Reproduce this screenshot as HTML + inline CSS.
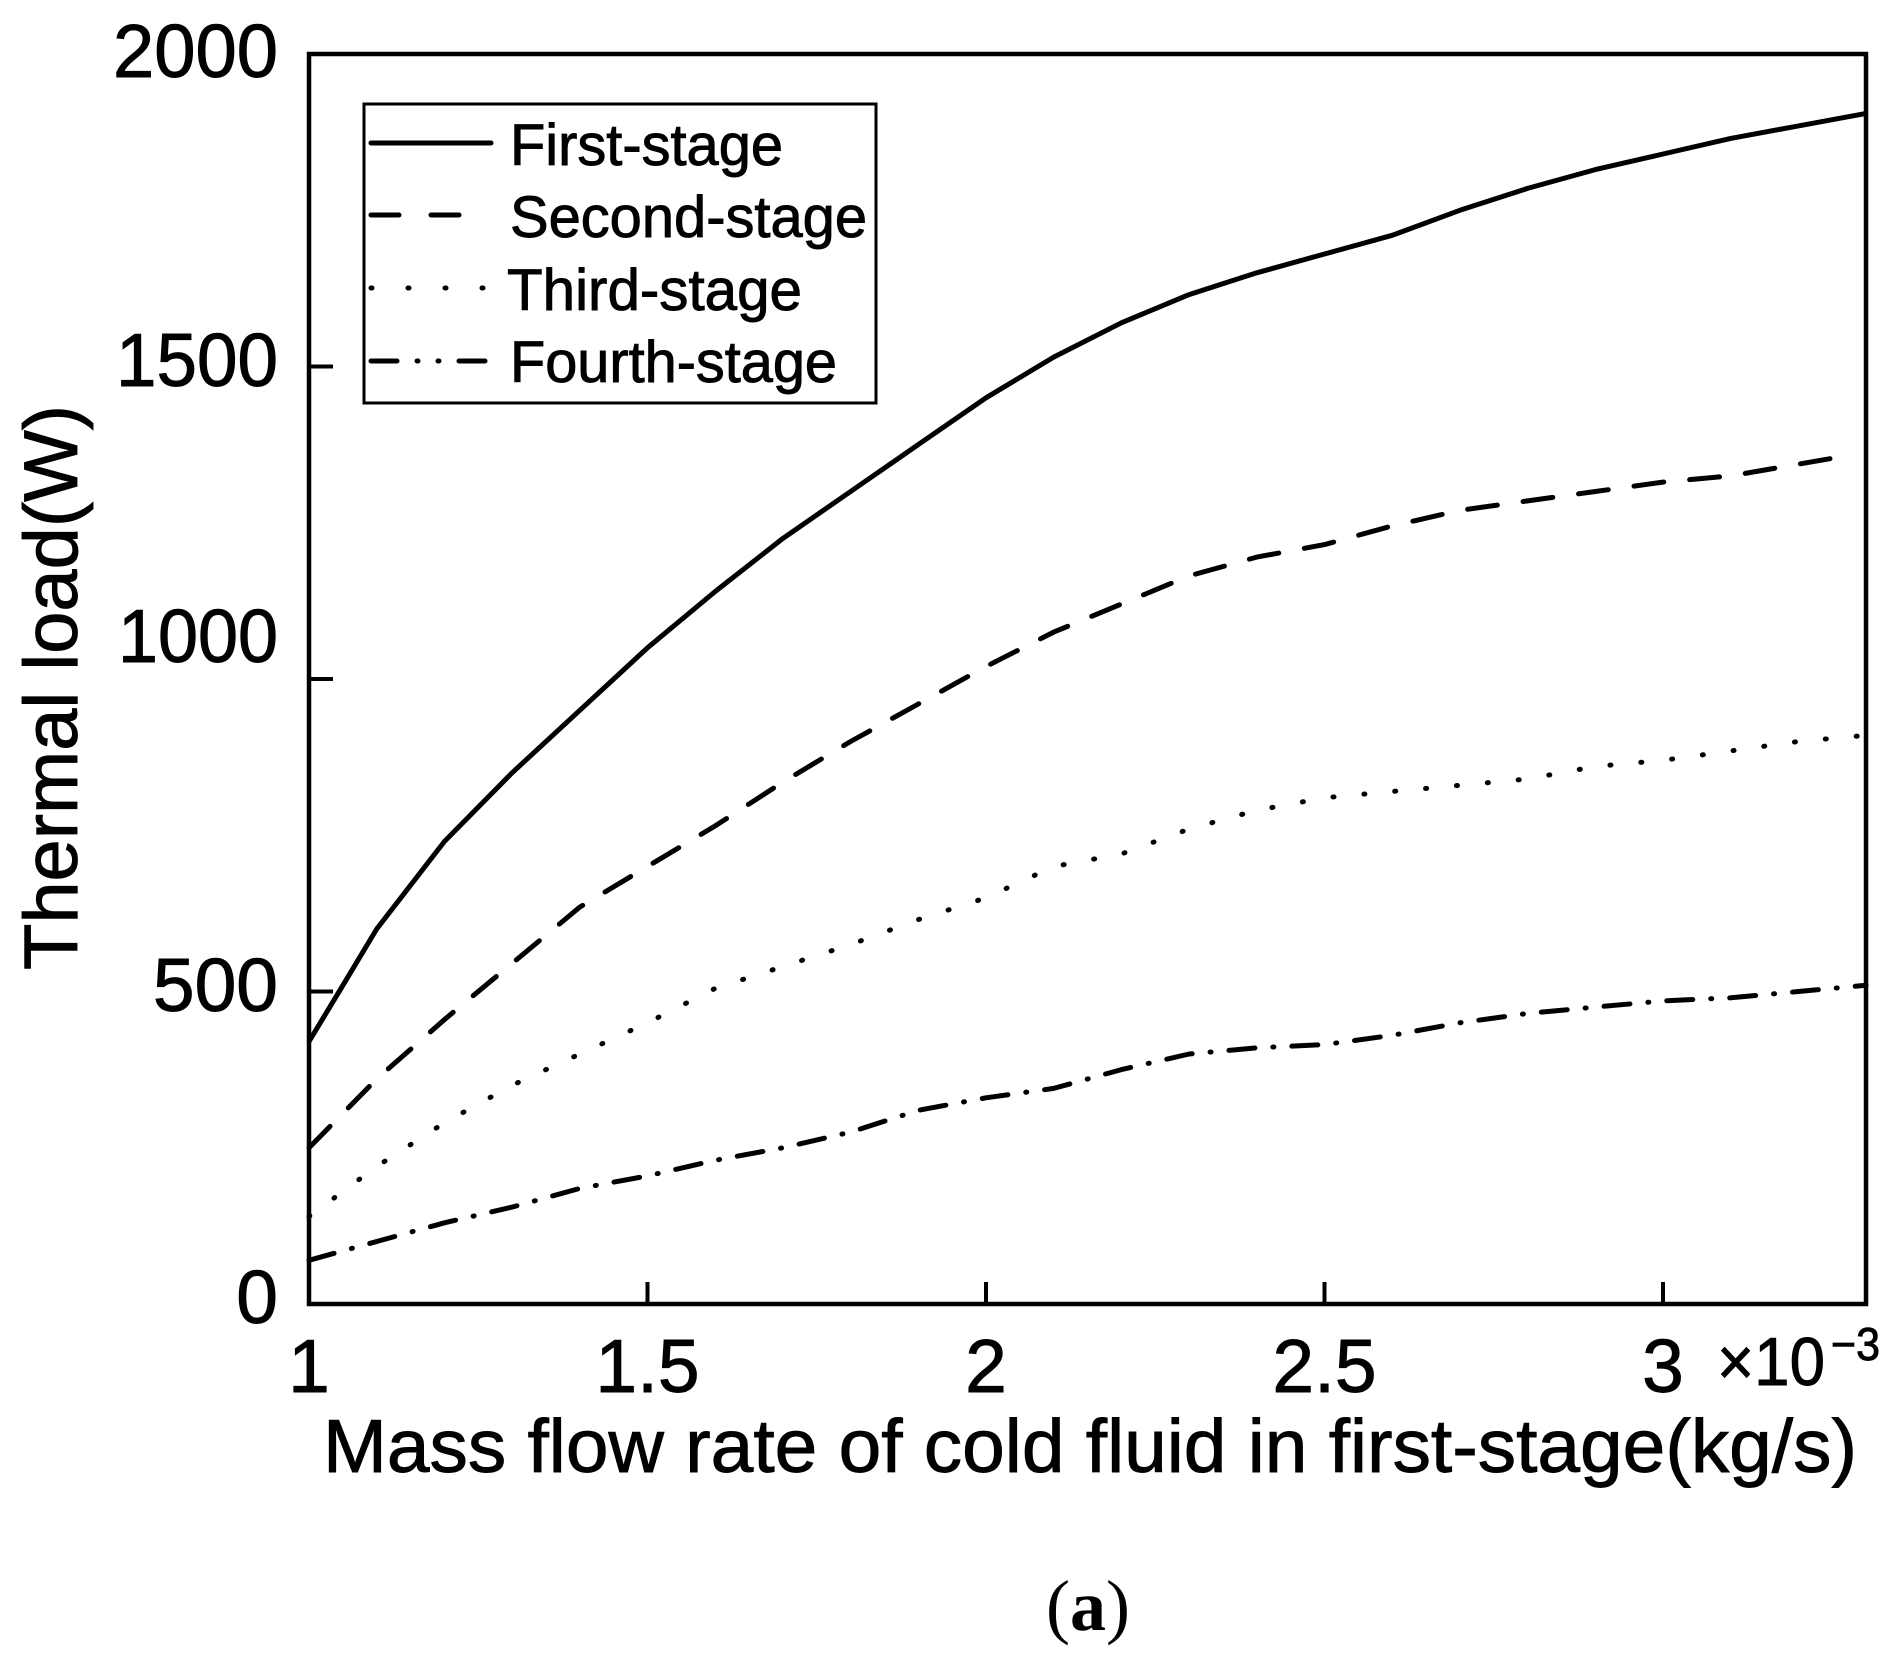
<!DOCTYPE html>
<html><head><meta charset="utf-8"><style>
html,body{margin:0;padding:0;background:#fff;}
svg{display:block;}
text{font-family:"Liberation Sans",Arial,sans-serif;fill:#000;stroke:#000;stroke-width:0.9px;}
</style></head><body>
<svg id="s" width="1898" height="1662" viewBox="0 0 1898 1662" xmlns="http://www.w3.org/2000/svg">
<rect width="1898" height="1662" fill="#fff"/>
<g id="curves" fill="none" stroke="#000" stroke-width="5" stroke-linejoin="round"></g>
<rect x="309" y="54" width="1557" height="1250" fill="none" stroke="#000" stroke-width="4.5"/>
<g stroke="#000" stroke-width="4">
<line x1="309" y1="991.5" x2="333" y2="991.5"/>
<line x1="309" y1="679" x2="333" y2="679"/>
<line x1="309" y1="366.5" x2="333" y2="366.5"/>
<line x1="647.5" y1="1304" x2="647.5" y2="1282"/>
<line x1="986" y1="1304" x2="986" y2="1282"/>
<line x1="1324.5" y1="1304" x2="1324.5" y2="1282"/>
<line x1="1663" y1="1304" x2="1663" y2="1282"/>
</g>
<g font-size="75" text-anchor="end">
<text x="278" y="77" textLength="165" lengthAdjust="spacingAndGlyphs">2000</text>
<text x="278" y="386" textLength="162" lengthAdjust="spacingAndGlyphs">1500</text>
<text x="278" y="662" textLength="160" lengthAdjust="spacingAndGlyphs">1000</text>
<text x="278" y="1011">500</text>
<text x="278" y="1323">0</text>
</g>
<g font-size="75" text-anchor="middle">
<text x="309" y="1392">1</text>
<text x="647.5" y="1392">1.5</text>
<text x="986" y="1392">2</text>
<text x="1324.5" y="1392">2.5</text>
<text x="1663" y="1392">3</text>
</g>
<text x="1717" y="1385" font-size="68" textLength="108" lengthAdjust="spacingAndGlyphs">×10</text>
<text x="1831" y="1360" font-size="46" textLength="49" lengthAdjust="spacingAndGlyphs">−3</text>
<text x="323" y="1472" font-size="75" textLength="1534" lengthAdjust="spacingAndGlyphs">Mass flow rate of cold fluid in first-stage(kg/s)</text>
<text transform="translate(77,970) rotate(-90)" font-size="76" textLength="565" lengthAdjust="spacingAndGlyphs">Thermal load(W)</text>
<text x="1088" y="1630" font-size="72" text-anchor="middle" style="font-family:'Liberation Serif',serif;stroke-width:0">(<tspan font-weight="bold">a</tspan>)</text>
<rect x="364" y="104" width="512" height="299" fill="#fff" stroke="#000" stroke-width="3"/>
<g stroke="#000" stroke-width="5" stroke-linecap="round" fill="none">
<line x1="371" y1="143" x2="491" y2="143"/>
<line x1="371" y1="215" x2="491" y2="215" stroke-dasharray="28 32"/>
<line x1="371" y1="288" x2="491" y2="288" stroke-dasharray="1 36"/>
<line x1="371" y1="361" x2="491" y2="361" stroke-dasharray="26 20 1 20 1 20 26"/>
</g>
<g font-size="58">
<text x="510" y="165" textLength="273" lengthAdjust="spacingAndGlyphs">First-stage</text>
<text x="510" y="237" textLength="357" lengthAdjust="spacingAndGlyphs">Second-stage</text>
<text x="507" y="310" textLength="295" lengthAdjust="spacingAndGlyphs">Third-stage</text>
<text x="510" y="382" textLength="327" lengthAdjust="spacingAndGlyphs">Fourth-stage</text>
</g>
</svg>
<script>
var S=[
{d:"",p:[[1,420],[1.05,510],[1.1,600],[1.2,740],[1.3,850],[1.4,950],[1.5,1050],[1.6,1140],[1.7,1225],[1.8,1300],[1.9,1375],[2,1450],[2.1,1515],[2.2,1570],[2.3,1615],[2.4,1650],[2.5,1680],[2.6,1710],[2.7,1750],[2.8,1785],[2.9,1815],[3,1840],[3.1,1865],[3.2,1885],[3.3,1905]]},
{d:"30 26",p:[[1,250],[1.1,360],[1.2,455],[1.3,545],[1.4,635],[1.5,700],[1.6,765],[1.7,835],[1.8,900],[1.9,960],[2,1020],[2.1,1075],[2.2,1120],[2.3,1165],[2.4,1195],[2.5,1215],[2.6,1245],[2.7,1270],[2.8,1285],[2.9,1300],[3,1315],[3.1,1325],[3.26,1355]]},
{d:"1 30",p:[[1,140],[1.1,220],[1.2,290],[1.3,350],[1.4,400],[1.5,450],[1.6,505],[1.7,540],[1.8,575],[1.9,615],[2,650],[2.1,700],[2.2,720],[2.3,760],[2.4,790],[2.5,810],[2.6,820],[2.7,830],[2.8,840],[2.9,860],[3,870],[3.1,885],[3.2,900],[3.3,910]]},
{d:"26 18 1 18",p:[[1,70],[1.1,100],[1.2,130],[1.3,155],[1.4,185],[1.5,205],[1.6,230],[1.7,250],[1.8,275],[1.9,310],[2,330],[2.1,345],[2.2,375],[2.3,400],[2.4,410],[2.5,415],[2.6,430],[2.7,450],[2.8,465],[2.9,475],[3,485],[3.1,490],[3.2,500],[3.3,510]]}
];
var g=document.getElementById('curves');
S.forEach(function(s){
 var pts=s.p.map(function(q){return (309+(q[0]-1)*677).toFixed(1)+','+(1304-q[1]*0.625).toFixed(1);}).join(' ');
 var e=document.createElementNS('http://www.w3.org/2000/svg','polyline');
 e.setAttribute('points',pts);
 if(s.d){e.setAttribute('stroke-dasharray',s.d);e.setAttribute('stroke-linecap','round');}
 g.appendChild(e);
});
</script>
</body></html>
